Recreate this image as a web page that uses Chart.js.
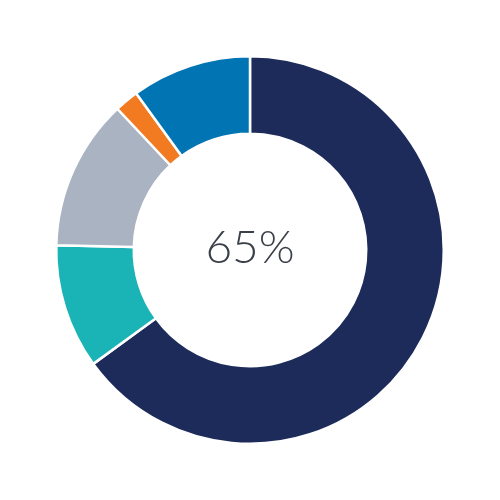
<!DOCTYPE html>
<html lang="en">

<head>
  <meta charset="UTF-8">
  <title>Doughnut</title>
  <script src="https://cdn.jsdelivr.net/npm/chart.js"></script>
  <style>
    body {
      margin: 0;
      padding: 0;
      background: #fff;
    }

    .wrap {
      position: relative;
      width: 500px;
      height: 500px;
    }

    .center {
      position: absolute;
      left: 0;
      top: -5px;
      width: 500px;
      height: 500px;
      display: flex;
      align-items: center;
      justify-content: center;
      font-family: Lato, sans-serif;
      font-weight: 300;
      font-size: 46px;
      color: #3b4048;
      pointer-events: none;
    }
  </style>
</head>

<body>
  <div class="wrap">
    <canvas id="chart" width="500" height="500"></canvas>
    <div class="center" id="centerText"></div>
  </div>
  <script>
    // 各區塊數值 (順時針，從正上方開始)
    const labels = ['A', 'B', 'C', 'D', 'E'];
    const values = [65, 10.4, 12.6, 2, 10];
    const colors = ['#1c2b5a', '#1ab3b6', '#a9b3c2', '#f27b21', '#0175b3'];
    const centerLabel = '65%';

    document.getElementById('centerText').textContent = centerLabel;

    new Chart(document.getElementById('chart'), {
      type: 'doughnut',
      data: {
        labels: labels,
        datasets: [{
          data: values,
          backgroundColor: colors,
          borderColor: '#ffffff',
          borderWidth: 2.5
        }]
      },
      options: {
        responsive: false,
        animation: false,
        cutout: '60%',
        layout: {
          padding: 55
        },
        plugins: {
          legend: { display: false },
          tooltip: { enabled: false }
        }
      }
    });
  </script>
</body>

</html>
